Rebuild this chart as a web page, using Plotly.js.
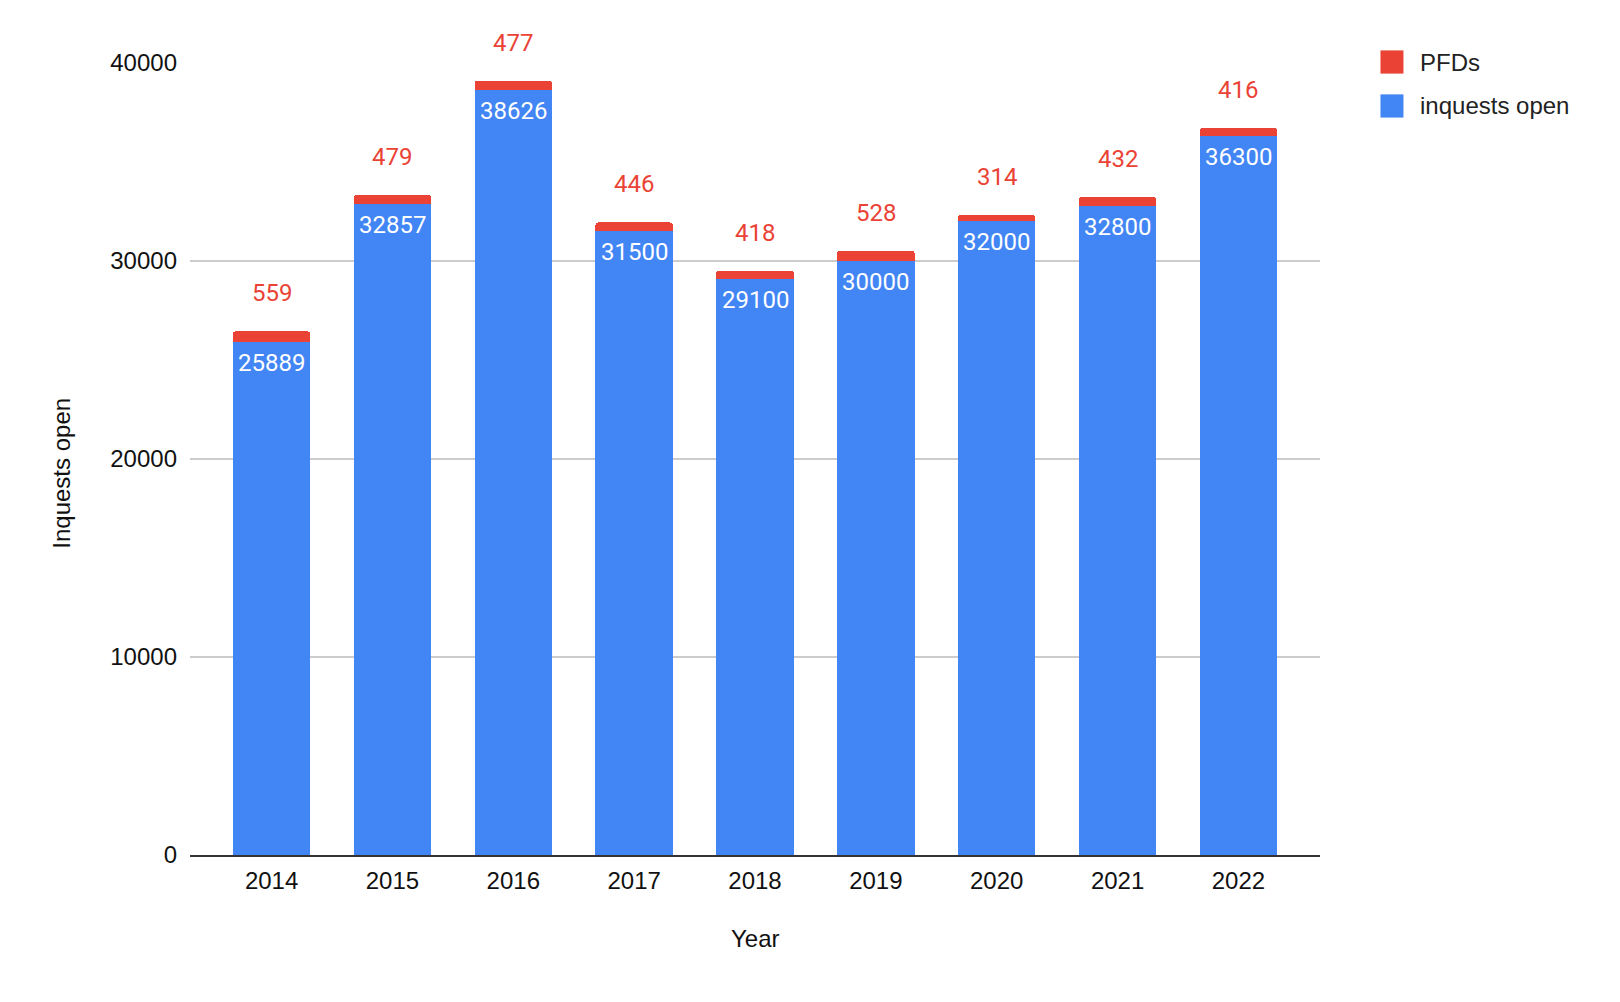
<!DOCTYPE html>
<html>
<head>
<meta charset="utf-8">
<script src="https://cdn.plot.ly/plotly-3.0.1.min.js"></script>
<style>
  html, body { margin: 0; padding: 0; background: #fff; }
  #chart { width: 1620px; height: 1002px; }
</style>
</head>
<body>
<div id="chart"></div>
<script>
const years = ['2014', '2015', '2016', '2017', '2018', '2019', '2020', '2021', '2022'];
const inquestsOpen = [25889, 32857, 38626, 31500, 29100, 30000, 32000, 32800, 36300];
const pfds = [559, 479, 477, 446, 418, 528, 314, 432, 416];
const yTicks = [0, 10000, 20000, 30000, 40000];
const seriesNames = ['inquests open', 'PFDs'];

const BLUE = '#4285F4';
const RED = '#EA4335';
const AXIS_FONT = 'Liberation Sans, Arial, sans-serif';
const LABEL_FONT = 'Roboto, Liberation Sans, sans-serif';

const W = 1620, H = 1002;
const L = 190, R = 1320.5, T = 62.7, B = 855;
const pw = R - L, ph = B - T;
const px = v => (v - L) / pw;
const py = v => (B - v) / ph;

const traces = [
  { type: 'bar', name: seriesNames[0], x: years, y: inquestsOpen,
    marker: { color: BLUE }, width: 0.64, hoverinfo: 'x+y+name' },
  { type: 'bar', name: seriesNames[1], x: years, y: pfds,
    marker: { color: RED }, width: 0.64, hoverinfo: 'x+y+name' }
];

const annotations = [];
years.forEach((yr, i) => {
  annotations.push({
    x: i, y: inquestsOpen[i] + pfds[i], xref: 'x', yref: 'y',
    text: String(pfds[i]), showarrow: false, yanchor: 'bottom', yshift: 22,
    font: { family: LABEL_FONT, size: 24, color: RED }
  });
  annotations.push({
    x: i, y: inquestsOpen[i], xref: 'x', yref: 'y',
    text: String(inquestsOpen[i]), showarrow: false, yanchor: 'top', yshift: -5,
    font: { family: LABEL_FONT, size: 24, color: '#ffffff' }
  });
});

// axis titles
annotations.push({
  xref: 'paper', yref: 'paper', x: px(61.5), y: py(473),
  text: 'Inquests open', textangle: -90, showarrow: false,
  xanchor: 'center', yanchor: 'middle',
  font: { family: AXIS_FONT, size: 24, color: '#111' }
});
annotations.push({
  xref: 'paper', yref: 'paper', x: px(756), y: py(939),
  text: 'Year', showarrow: false, xanchor: 'center', yanchor: 'middle',
  font: { family: AXIS_FONT, size: 24, color: '#111' }
});

// custom legend (top entry = PFDs, then inquests open)
const legendItems = [
  { name: seriesNames[1], color: RED, cy: 61.7 },
  { name: seriesNames[0], color: BLUE, cy: 105.7 }
];
const shapes = [];
legendItems.forEach(it => {
  shapes.push({
    type: 'rect', xref: 'paper', yref: 'paper',
    x0: px(1381), x1: px(1404), y0: py(it.cy + 11.6), y1: py(it.cy - 11.6),
    fillcolor: it.color, line: { width: 0 }
  });
  annotations.push({
    xref: 'paper', yref: 'paper', x: px(1419), y: py(it.cy),
    text: it.name, showarrow: false, xanchor: 'left', yanchor: 'middle',
    font: { family: AXIS_FONT, size: 24, color: '#222' }
  });
});

const layout = {
  width: W, height: H,
  margin: { l: L, r: W - R, t: T, b: H - B, pad: 0 },
  paper_bgcolor: '#ffffff', plot_bgcolor: '#ffffff',
  barmode: 'stack',
  barcornerradius: 3,
  showlegend: false,
  xaxis: {
    type: 'category', range: [-0.675, 8.675],
    showgrid: false, zeroline: false,
    showline: true, linecolor: '#333', linewidth: 2,
    ticks: '', tickfont: { family: AXIS_FONT, size: 24, color: '#111' },
    ticklabelstandoff: 3
  },
  yaxis: {
    range: [0, 40000], tickvals: yTicks, ticktext: yTicks.map(String),
    showgrid: true, gridcolor: '#cccccc', gridwidth: 2,
    zeroline: false, showline: false, ticks: '',
    tickfont: { family: AXIS_FONT, size: 24, color: '#111' },
    ticklabelstandoff: 12
  },
  annotations: annotations,
  shapes: shapes
};

Plotly.newPlot('chart', traces, layout, { displayModeBar: false, staticPlot: true });
</script>
</body>
</html>
